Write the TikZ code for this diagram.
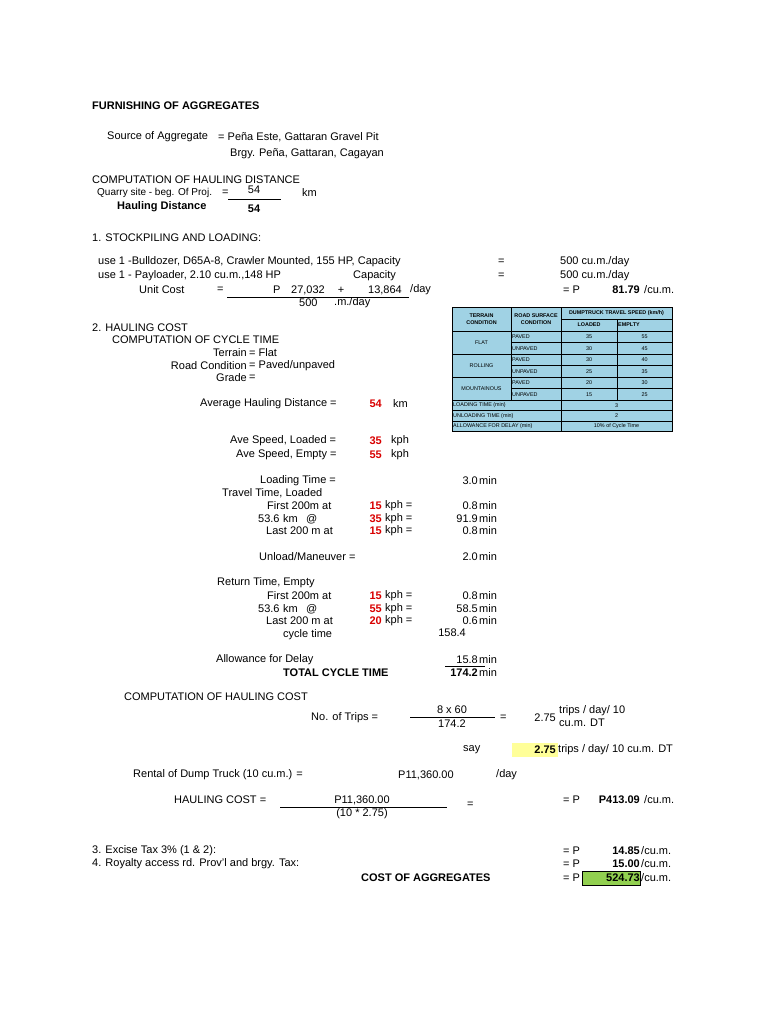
\documentclass[tikz,border=0pt]{standalone}
\usepackage{fontspec}
\setmainfont{Liberation Sans}
\begin{document}
\begin{tikzpicture}[x=1pt,y=-1pt,
 L/.style={anchor=west,inner sep=0pt,font=\fontsize{11}{12}\selectfont},
 R/.style={anchor=east,inner sep=0pt,font=\fontsize{11}{12}\selectfont},
 C/.style={anchor=center,inner sep=0pt,font=\fontsize{11}{12}\selectfont},
 red/.style={text=red!85!black,font=\fontsize{11}{12}\selectfont\bfseries},
 B/.style={font=\fontsize{11}{12}\selectfont\bfseries},
 T/.style={inner sep=0pt,font=\fontsize{5.4}{6}\selectfont},
 TB/.style={inner sep=0pt,font=\fontsize{5.4}{6.5}\selectfont\bfseries,align=center},
 cell/.style={draw=black,fill=tcol,line width=0.4pt}]
\definecolor{tcol}{RGB}{160,210,228}
\definecolor{ycol}{RGB}{255,255,153}
\definecolor{gcol}{RGB}{146,208,80}
\useasboundingbox (0,0) rectangle (768,1024);
\fill[white] (0,0) rectangle (768,1024);
\node[L,B] (t0) at (92,106) {FURNISHING OF AGGREGATES};
\node[L] (a1) at (107,137) {Source of Aggregate};
\node[L] (a2) at (218,137) {= Peña Este, Gattaran Gravel Pit};
\node[L] (a3) at (230,154) {Brgy. Peña, Gattaran, Cagayan};
\node[L] (b0) at (92,180) {COMPUTATION OF HAULING DISTANCE};
\node[L,font=\fontsize{10}{12}\selectfont] (b1) at (97,193) {Quarry site - beg. Of Proj.};
\node[L] (b2) at (222,193) {=};
\node[C] (b3) at (254,190) {54};
\draw[line width=0.8pt] (228,199) -- (281,199);
\node[L] (b4) at (302,193) {km};
\node[L,B] (b5) at (117,207) {Hauling Distance};
\node[C,B] (b6) at (254,209) {54};
\node[L] (c0) at (92,238) {1. STOCKPILING AND LOADING:};
\node[L] (c1) at (98,262) {use 1 -Bulldozer, D65A-8, Crawler Mounted, 155 HP, Capacity};
\node[L] (c2) at (498,262) {=};
\node[L] (c3) at (560,262) {500 cu.m./day};
\node[L] (c4) at (98,276) {use 1 - Payloader, 2.10 cu.m.,148 HP};
\node[L] (c5) at (353,276) {Capacity};
\node[L] (c6) at (498,276) {=};
\node[L] (c7) at (560,276) {500 cu.m./day};
\node[L] (c8) at (139,290) {Unit Cost};
\node[L] (c9) at (217,290) {=};
\node[L] (c10) at (273,290) {P};
\node[R] (c11) at (325,290) {27,032};
\node[C] (c12) at (341,290) {+};
\node[R] (c13) at (402,290) {13,864};
\node[L] (c14) at (410,290) {/day};
\draw[line width=0.8pt] (227,297) -- (409,297);
\node[L] (c15) at (299,303) {500};
\node[L] (c16) at (334,303) {.m./day};
\node[L] (c17) at (563,290) {= P};
\node[R,B] (c18) at (640,290) {81.79};
\node[L] (c19) at (644,290) {/cu.m.};
% table
\draw[cell] (452,307) rectangle (511,331);
\draw[cell] (511,307) rectangle (561,331);
\draw[cell] (561,307) rectangle (672,319);
\draw[cell] (561,319) rectangle (617,331);
\draw[cell] (617,319) rectangle (672,331);
\node[TB] (h1) at (481.5,319) {TERRAIN\\CONDITION};
\node[TB] (h2) at (536,319) {ROAD SURFACE\\CONDITION};
\node[TB] (h3) at (616.5,313) {DUMPTRUCK TRAVEL SPEED (km/h)};
\node[TB] (h4) at (589,325) {LOADED};
\node[TB,anchor=west] (h5) at (618,325) {EMPLTY};
\foreach \i/\ter/\pl/\pe/\ul/\ue in {0/FLAT/35/55/30/45,1/ROLLING/30/40/25/35,2/MOUNTAINOUS/20/30/15/25}{
 \pgfmathsetmacro{\yt}{331+\i*23}
 \draw[cell] (452,\yt) rectangle (511,\yt+23);
 \node[T] at (481.5,\yt+11.5) {\ter};
 \draw[cell] (511,\yt) rectangle (561,\yt+11.5);
 \draw[cell] (511,\yt+11.5) rectangle (561,\yt+23);
 \draw[cell] (561,\yt) rectangle (617,\yt+11.5);
 \draw[cell] (561,\yt+11.5) rectangle (617,\yt+23);
 \draw[cell] (617,\yt) rectangle (672,\yt+11.5);
 \draw[cell] (617,\yt+11.5) rectangle (672,\yt+23);
 \node[T,anchor=west] at (512,\yt+5.75) {PAVED};
 \node[T,anchor=west] at (512,\yt+17.25) {UNPAVED};
 \node[T] at (589,\yt+5.75) {\pl};
 \node[T] at (644.5,\yt+5.75) {\pe};
 \node[T] at (589,\yt+17.25) {\ul};
 \node[T] at (644.5,\yt+17.25) {\ue};
}
\foreach \i/\lab/\val in {0/LOADING TIME (min)/3,1/UNLOADING TIME (min)/2,2/ALLOWANCE FOR DELAY (min)/10\% of Cycle Time}{
 \pgfmathsetmacro{\yt}{400+\i*10.5}
 \draw[cell] (452,\yt) rectangle (561,\yt+10.5);
 \draw[cell] (561,\yt) rectangle (672,\yt+10.5);
 \node[T,anchor=west] at (453,\yt+5.25) {\lab};
 \node[T] at (616.5,\yt+5.25) {\val};
}
% section 2
\node[L] (d0) at (92,328) {2. HAULING COST};
\node[L] (d1) at (112,340) {COMPUTATION OF CYCLE TIME};
\node[R] (d2) at (247,353) {Terrain};
\node[L] (d3) at (249,353) {= Flat};
\node[R] (d4) at (247,366) {Road Condition};
\node[L] (d5) at (249,366) {= Paved/unpaved};
\node[R] (d6) at (247,378) {Grade};
\node[L] (d7) at (249,378) {=};
\node[L] (e1) at (200,404) {Average Hauling Distance =};
\node[R,red] (e2) at (382,404) {54};
\node[L] (e3) at (393,404) {km};
\node[L] (e4) at (230,441) {Ave Speed, Loaded =};
\node[R,red] (e5) at (382,441) {35};
\node[L] (e6) at (391,441) {kph};
\node[L] (e7) at (236,455) {Ave Speed, Empty =};
\node[R,red] (e8) at (382,455) {55};
\node[L] (e9) at (391,455) {kph};
\node[L] (f1) at (260,481) {Loading Time =};
\node[R] (f2) at (478,481) {3.0};
\node[L] (f3) at (479,481) {min};
\node[L] (f4) at (222,493) {Travel Time, Loaded};
\foreach \y/\sp/\t/\k in {506/15/0.8/a,519/35/91.9/b,531/15/0.8/c,596/15/0.8/d,609/55/58.5/e,621/20/0.6/f}{
 \node[R,red] (s\k) at (382,\y) {\sp};
 \node[L] (k\k) at (385,\y) {kph =};
 \node[R] (v\k) at (478,\y) {\t};
 \node[L] (m\k) at (479,\y) {min};
}
\foreach \y/\k in {506/a,596/d}{\node[L] (p\k) at (267,\y) {First 200m at};}
\foreach \y/\k in {519/b,609/e}{\node[L] (q\k) at (258,\y) {53.6};\node[L] (r\k) at (283,\y) {km};\node[L] (u\k) at (306,\y) {@};}
\foreach \y/\k in {531/c,621/f}{\node[L] (w\k) at (266,\y) {Last 200 m at};}
\node[L] (g1) at (259,557) {Unload/Maneuver =};
\node[R] (g2) at (478,557) {2.0};
\node[L] (g3) at (479,557) {min};
\node[L] (g4) at (217,583) {Return Time, Empty};
\node[L] (g5) at (283,635) {cycle time};
\node[R] (g6) at (466,633) {158.4};
\node[L] (g7) at (216,660) {Allowance for Delay};
\node[R] (g8) at (478,660) {15.8};
\node[L] (g9) at (479,660) {min};
\draw[line width=0.6pt] (445,666) -- (485,666);
\node[L,B] (g10) at (283,673) {TOTAL CYCLE TIME};
\node[R,B] (g11) at (478,673) {174.2};
\node[L] (g12) at (479,673) {min};
\node[L] (h0) at (124,697) {COMPUTATION OF HAULING COST};
\node[L] (i1) at (311,718) {No. of Trips =};
\node[C] (i2) at (452,710) {8 x 60};
\draw[line width=0.6pt] (410,717) -- (495,717);
\node[C] (i3) at (452,724) {174.2};
\node[L] (i4) at (500,718) {=};
\node[R] (i5) at (556,718) {2.75};
\node[L] (i6) at (559,711) {trips / day/ 10};
\node[L] (i7) at (559,723) {cu.m. DT};
\node[L] (j1) at (463,750) {say};
\fill[ycol] (512,743) rectangle (558,757);
\node[R,B] (j2) at (556,750) {2.75};
\node[L] (j3) at (558,750) {trips / day/ 10 cu.m. DT};
\node[L] (k0) at (133,775) {Rental of  Dump Truck (10 cu.m.) =};
\node[L] (k1) at (398,775) {P11,360.00};
\node[L] (k2) at (496,775) {/day};
\node[L] (l1) at (174,800) {HAULING COST  =};
\node[C] (l2) at (362,800) {P11,360.00};
\draw[line width=0.6pt] (280,807) -- (447,807);
\node[C] (l3) at (362,814) {(10 *  2.75)};
\node[L] (l4) at (467,805) {=};
\node[L] (l5) at (563,800) {= P};
\node[R,B] (l6) at (640,800) {P413.09};
\node[L] (l7) at (644,800) {/cu.m.};
\node[L] (n1) at (92,851) {3. Excise Tax  3\% (1 \& 2):};
\node[L] (n2) at (563,851) {= P};
\node[R,B] (n3) at (640,851) {14.85};
\node[L] (n4) at (641,851) {/cu.m.};
\node[L] (o1) at (92,864) {4. Royalty access rd. Prov'l and brgy. Tax:};
\node[L] (o2) at (563,864) {= P};
\node[R,B] (o3) at (640,864) {15.00};
\node[L] (o4) at (641,864) {/cu.m.};
\node[L,B] (x1) at (361,878) {COST OF AGGREGATES};
\node[L] (x2) at (563,878) {= P};
\fill[gcol] (582,871) rectangle (640,885);
\draw[line width=0.3pt] (582,871) rectangle (640,885);
\node[R,B] (x3) at (640,878) {524.73};
\node[L] (x4) at (641,878) {/cu.m.};
\end{tikzpicture}
\end{document}
